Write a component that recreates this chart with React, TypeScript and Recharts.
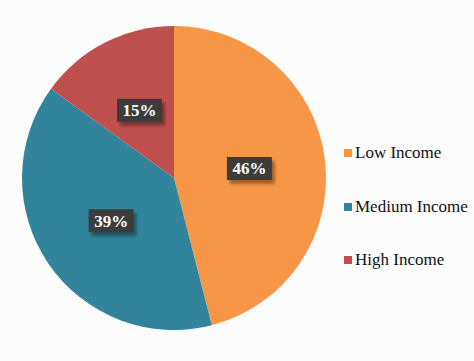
import React from 'react';
import { PieChart, Pie, Cell, Legend } from 'recharts';

const categories = ['Low Income', 'Medium Income', 'High Income'];
const values = [46, 39, 15];
const colors = ['#F79646', '#31849B', '#C0504D'];

const data = categories.map((name, i) => ({ name, value: values[i] }));

const RAD = Math.PI / 180;
const SERIF = '"Liberation Serif", monospace';

const renderLabel = (props: any) => {
  const { cx, cy, midAngle, outerRadius, value } = props;
  const r = outerRadius * 0.5;
  const x = cx + r * Math.cos(-midAngle * RAD);
  const y = cy + r * Math.sin(-midAngle * RAD);
  const w = 45;
  const h = 23;
  return (
    <g>
      <rect x={x - w / 2 + 3} y={y - h / 2 + 4} width={w} height={h} fill="rgba(0,0,0,0.35)" filter="url(#blurShadow)" />
      <rect x={x - w / 2} y={y - h / 2} width={w} height={h} fill="#3c3c3c" />
      <text
        x={x}
        y={y + 2}
        textAnchor="middle"
        dominantBaseline="middle"
        fill="#ffffff"
        fontFamily={SERIF}
        fontWeight="bold"
        fontSize={17}
        style={{ fontFamily: SERIF }}
      >
        {`${value}%`}
      </text>
    </g>
  );
};

const renderLegend = () => (
  <div style={{ fontFamily: SERIF, fontSize: 17, color: '#111' }}>
    {categories.map((c, i) => (
      <div key={c} style={{ display: 'flex', alignItems: 'center', height: 20, marginBottom: i < categories.length - 1 ? 33.5 : 0, fontFamily: SERIF }}>
        <span style={{ display: 'inline-block', width: 8, height: 8, background: colors[i], marginRight: 3 }} />
        <span style={{ fontFamily: SERIF }}>{c}</span>
      </div>
    ))}
  </div>
);

export default function App() {
  return (
    <div style={{ position: 'absolute', left: 0, top: 0, width: 474, height: 361, background: '#fcfcfc', fontFamily: SERIF }}>
      <PieChart width={474} height={361} margin={{ top: 0, right: 0, bottom: 0, left: 0 }} style={{ fontFamily: SERIF }}>
        <defs>
          <filter id="blurShadow" x="-20%" y="-20%" width="140%" height="140%">
            <feGaussianBlur stdDeviation="1.5" />
          </filter>
        </defs>
        <Pie
          data={data}
          dataKey="value"
          nameKey="name"
          cx={174}
          cy={178}
          outerRadius={152}
          startAngle={90}
          endAngle={-270}
          stroke="none"
          label={renderLabel}
          labelLine={false}
          isAnimationActive={false}
        >
          {data.map((d, i) => (
            <Cell key={d.name} fill={colors[i]} />
          ))}
        </Pie>
        <Legend
          content={renderLegend}
          layout="vertical"
          align="right"
          verticalAlign="top"
          wrapperStyle={{ left: 344, top: 143, width: 130 }}
        />
      </PieChart>
    </div>
  );
}
